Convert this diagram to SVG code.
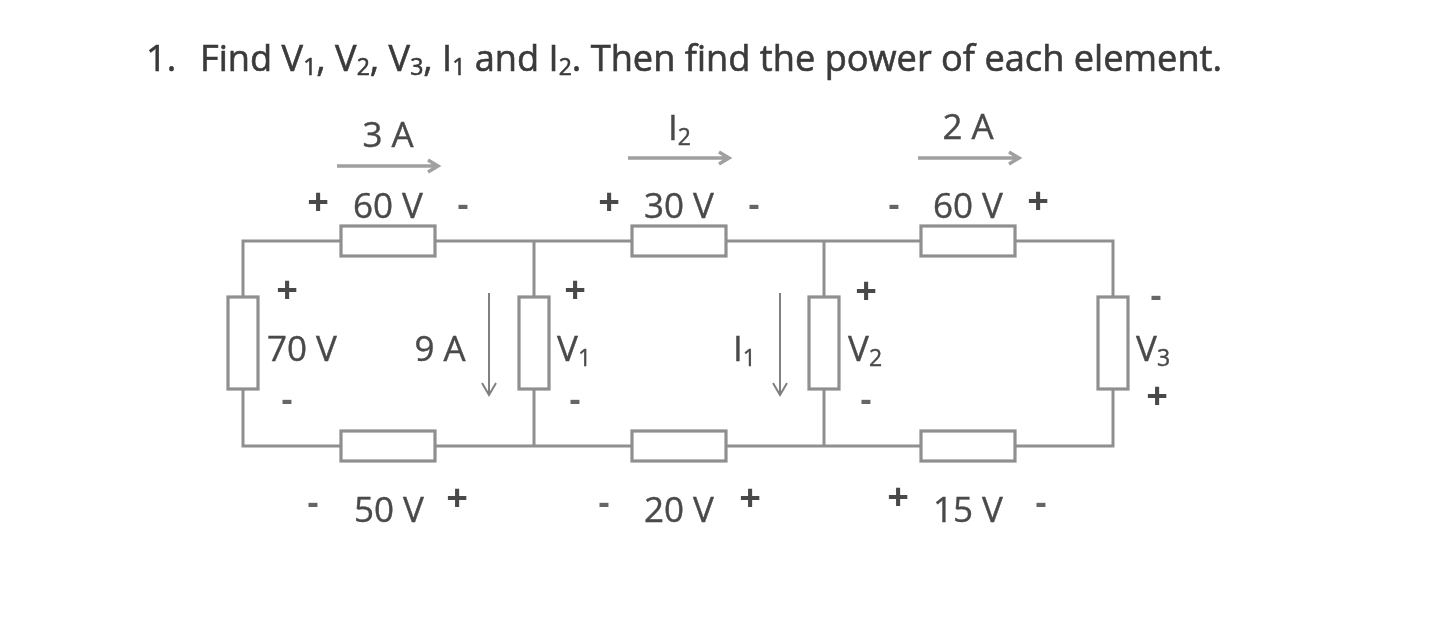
<svg xmlns="http://www.w3.org/2000/svg" width="1444" height="622" viewBox="0 0 1444 622">
<style>
text{font-family:"Open Sans","Noto Sans","Liberation Sans",sans-serif;fill:#4a4a4a}
.t{font-size:36.2px;fill:#3a3a3a;stroke:#3a3a3a;stroke-width:.6}
.l{font-size:35px;text-anchor:middle;stroke:#4a4a4a;stroke-width:.4}
.n{font-size:35px;stroke:#4a4a4a;stroke-width:.4}
.s{font-size:38px;text-anchor:middle;font-weight:bold}
.m{font-size:34px;text-anchor:middle;font-weight:bold;fill:#666}
.sub{font-size:23px}
.w{fill:none;stroke:#8f8f8f;stroke-width:3}
.r{fill:#fff;stroke:#8f8f8f;stroke-width:3.2}
.a{fill:none;stroke:#a0a0a0;stroke-width:3.5}
.b{fill:none;stroke:#808080;stroke-width:2}
</style>
<defs>
<filter id="soft" x="-5%" y="-5%" width="110%" height="110%"><feGaussianBlur stdDeviation="0.7"/></filter>
<path id="ar" class="a" d="M0 0H100M91 -6L101 0L91 6"/>
<path id="ad" class="b" d="M0 0V102M-7 90L0 102L7 90"/>
<rect id="rh" class="r" x="0" y="0" width="94" height="30"/>
<rect id="rv" class="r" x="0" y="0" width="30" height="92"/>
</defs>
<rect width="1444" height="622" fill="#fff"/>
<g filter="url(#soft)">
<g id="title">
<text class="t" x="146" y="71">1.</text>
<text class="t" x="200" y="71">Find V<tspan class="sub" dy="4">1</tspan><tspan dy="-4">, V</tspan><tspan class="sub" dy="4">2</tspan><tspan dy="-4">, V</tspan><tspan class="sub" dy="4">3</tspan><tspan dy="-4">, I</tspan><tspan class="sub" dy="4">1</tspan><tspan dy="-4"> and I</tspan><tspan class="sub" dy="4">2</tspan><tspan dy="-4">. Then find the power of each element.</tspan></text>
</g>
<g id="connectors">
<path class="w" d="M243 297V241H1113V297M243 389V446H1113V389M534 241V297M534 389V446M824 241V297M824 389V446"/>
<use href="#ar" x="337" y="166"/>
<use href="#ar" x="628" y="158"/>
<use href="#ar" x="918" y="158"/>
<use href="#ad" x="489" y="293"/>
<use href="#ad" x="780" y="293"/>
</g>
<g id="r-top-1"><use href="#rh" x="341" y="226"/><text class="l" x="388" y="218">60 V</text><text class="s" x="318" y="215">+</text><text class="m" x="463" y="216">-</text><text class="l" x="388" y="147">3 A</text></g>
<g id="r-top-2"><use href="#rh" x="632" y="226"/><text class="l" x="679" y="218">30 V</text><text class="s" x="609" y="215">+</text><text class="m" x="754" y="216">-</text><text class="n" x="668" y="140">I<tspan class="sub" dy="5">2</tspan></text></g>
<g id="r-top-3"><use href="#rh" x="921" y="226"/><text class="l" x="968" y="218">60 V</text><text class="m" x="894" y="216">-</text><text class="s" x="1038" y="214">+</text><text class="l" x="968" y="139">2 A</text></g>
<g id="r-left"><use href="#rv" x="228" y="297"/><text class="s" x="287" y="303">+</text><text class="l" x="302" y="361">70 V</text><text class="m" x="287" y="411">-</text></g>
<g id="r-v1"><use href="#rv" x="519" y="297"/><text class="s" x="575" y="303">+</text><text class="n" x="557" y="361">V<tspan class="sub" dy="5">1</tspan></text><text class="m" x="575" y="411">-</text><text class="l" x="440" y="361">9 A</text></g>
<g id="r-v2"><use href="#rv" x="809" y="297"/><text class="s" x="866" y="304">+</text><text class="n" x="848" y="361">V<tspan class="sub" dy="5">2</tspan></text><text class="m" x="866" y="411">-</text><text class="n" x="733" y="361">I<tspan class="sub" dy="5">1</tspan></text></g>
<g id="r-v3"><use href="#rv" x="1098" y="297"/><text class="m" x="1156" y="307">-</text><text class="n" x="1136" y="361">V<tspan class="sub" dy="5">3</tspan></text><text class="s" x="1157" y="409">+</text></g>
<g id="r-bot-1"><use href="#rh" x="341" y="431"/><text class="l" x="389" y="522">50 V</text><text class="m" x="313" y="514">-</text><text class="s" x="457" y="511">+</text></g>
<g id="r-bot-2"><use href="#rh" x="632" y="431"/><text class="l" x="679" y="522">20 V</text><text class="m" x="604" y="514">-</text><text class="s" x="750" y="511">+</text></g>
<g id="r-bot-3"><use href="#rh" x="921" y="431"/><text class="l" x="968" y="522">15 V</text><text class="s" x="898" y="510">+</text><text class="m" x="1041" y="514">-</text></g>
</g>
</svg>
